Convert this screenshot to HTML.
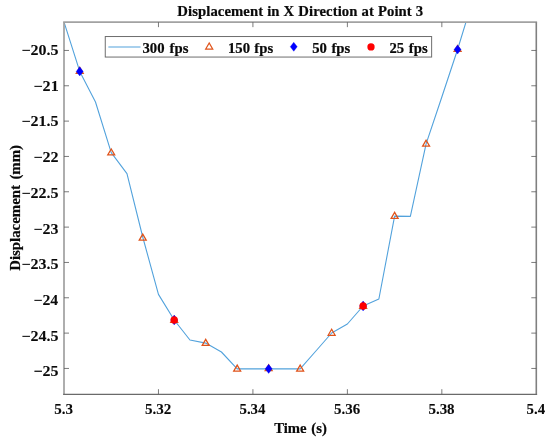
<!DOCTYPE html>
<html><head><meta charset="utf-8"><title>Displacement in X Direction at Point 3</title>
<style>
html,body{margin:0;padding:0;background:#fff;}
body{width:550px;height:442px;overflow:hidden;}
svg{display:block;}
text{font-family:"Liberation Serif", "Times New Roman", serif;font-weight:bold;fill:#0a0a0a;stroke:#0a0a0a;stroke-width:0.2px;}
.tk{font-size:14.7px;stroke-width:0.08px;}
.lb{font-size:14.7px;}
</style></head><body>
<svg width="550" height="442" viewBox="0 0 550 442">
<rect x="0" y="0" width="550" height="442" fill="#ffffff"/>
<defs><clipPath id="ax"><rect x="64.0" y="22.15" width="472.29999999999995" height="372.05"/></clipPath></defs>

<g clip-path="url(#ax)"><polyline points="64.00,22.00 79.74,71.40 95.49,102.00 111.23,152.70 126.97,173.60 142.72,237.00 158.46,294.40 174.20,320.00 189.95,340.00 205.69,343.10 221.43,352.00 237.18,368.85 252.92,368.85 268.66,368.85 284.41,368.85 300.15,368.85 315.89,351.00 331.64,333.00 347.38,324.00 363.12,306.00 378.87,299.00 394.61,216.10 410.35,216.40 426.10,143.90 441.84,97.00 457.58,49.50 473.33,-1.90 489.07,-50.00" fill="none" stroke="#52a2dc" stroke-width="1.1" stroke-linejoin="round"/></g>
<polygon points="79.74,67.25 76.24,73.28 83.24,73.28" fill="none" stroke="#e0531a" stroke-width="1.25" stroke-linejoin="miter"/>
<polygon points="111.23,148.95 107.73,154.98 114.73,154.98" fill="none" stroke="#e0531a" stroke-width="1.25" stroke-linejoin="miter"/>
<polygon points="142.72,234.10 139.22,240.13 146.22,240.13" fill="none" stroke="#e0531a" stroke-width="1.25" stroke-linejoin="miter"/>
<polygon points="174.20,316.25 170.70,322.28 177.70,322.28" fill="none" stroke="#e0531a" stroke-width="1.25" stroke-linejoin="miter"/>
<polygon points="205.69,339.35 202.19,345.38 209.19,345.38" fill="none" stroke="#e0531a" stroke-width="1.25" stroke-linejoin="miter"/>
<polygon points="237.18,365.10 233.68,371.13 240.68,371.13" fill="none" stroke="#e0531a" stroke-width="1.25" stroke-linejoin="miter"/>
<polygon points="268.66,364.70 265.16,370.73 272.16,370.73" fill="none" stroke="#e0531a" stroke-width="1.25" stroke-linejoin="miter"/>
<polygon points="300.15,365.10 296.65,371.13 303.65,371.13" fill="none" stroke="#e0531a" stroke-width="1.25" stroke-linejoin="miter"/>
<polygon points="331.64,329.25 328.14,335.28 335.14,335.28" fill="none" stroke="#e0531a" stroke-width="1.25" stroke-linejoin="miter"/>
<polygon points="363.12,302.25 359.62,308.28 366.62,308.28" fill="none" stroke="#e0531a" stroke-width="1.25" stroke-linejoin="miter"/>
<polygon points="394.61,212.35 391.11,218.38 398.11,218.38" fill="none" stroke="#e0531a" stroke-width="1.25" stroke-linejoin="miter"/>
<polygon points="426.10,140.15 422.60,146.18 429.60,146.18" fill="none" stroke="#e0531a" stroke-width="1.25" stroke-linejoin="miter"/>
<polygon points="457.58,45.45 454.08,51.48 461.08,51.48" fill="none" stroke="#e0531a" stroke-width="1.25" stroke-linejoin="miter"/>
<polygon points="79.74,66.85 83.24,71.40 79.74,75.95 76.24,71.40" fill="#0000ff" stroke="#0000ff" stroke-width="0.3"/>
<polygon points="268.66,364.30 272.16,368.85 268.66,373.40 265.16,368.85" fill="#0000ff" stroke="#0000ff" stroke-width="0.3"/>
<polygon points="457.58,44.95 461.08,49.50 457.58,54.05 454.08,49.50" fill="#0000ff" stroke="#0000ff" stroke-width="0.3"/>
<polygon points="174.20,315.10 177.80,320.00 174.20,324.90 170.60,320.00" fill="#0000ff" stroke="#0000ff" stroke-width="0.3"/>
<circle cx="174.20" cy="320.00" r="3.65" fill="#ff0000"/>
<polygon points="363.12,301.10 366.72,306.00 363.12,310.90 359.52,306.00" fill="#0000ff" stroke="#0000ff" stroke-width="0.3"/>
<circle cx="363.12" cy="306.00" r="3.65" fill="#ff0000"/>
<g fill="none" stroke-linecap="butt">
<line x1="63.15" y1="22.15" x2="537.0999999999999" y2="22.15" stroke="#a2a2a2" stroke-width="1.7"/>
<line x1="64.0" y1="22.15" x2="64.0" y2="394.84999999999997" stroke="#a0a0a0" stroke-width="1.7"/>
<line x1="536.3" y1="22.15" x2="536.3" y2="394.84999999999997" stroke="#808080" stroke-width="1.6"/>
<line x1="63.15" y1="394.3" x2="537.0999999999999" y2="394.3" stroke="#6a6a6a" stroke-width="1.3"/>
</g>
<g stroke="#5a5a5a" stroke-width="0.8" fill="none">
<line x1="158.46" y1="394.2" x2="158.46" y2="389.2"/>
<line x1="158.46" y1="22.15" x2="158.46" y2="27.15"/>
<line x1="252.92" y1="394.2" x2="252.92" y2="389.2"/>
<line x1="252.92" y1="22.15" x2="252.92" y2="27.15"/>
<line x1="347.38" y1="394.2" x2="347.38" y2="389.2"/>
<line x1="347.38" y1="22.15" x2="347.38" y2="27.15"/>
<line x1="441.84" y1="394.2" x2="441.84" y2="389.2"/>
<line x1="441.84" y1="22.15" x2="441.84" y2="27.15"/>
<line x1="64.0" y1="50.44" x2="69.0" y2="50.44"/>
<line x1="536.3" y1="50.44" x2="531.3" y2="50.44"/>
<line x1="64.0" y1="85.78" x2="69.0" y2="85.78"/>
<line x1="536.3" y1="85.78" x2="531.3" y2="85.78"/>
<line x1="64.0" y1="121.11" x2="69.0" y2="121.11"/>
<line x1="536.3" y1="121.11" x2="531.3" y2="121.11"/>
<line x1="64.0" y1="156.44" x2="69.0" y2="156.44"/>
<line x1="536.3" y1="156.44" x2="531.3" y2="156.44"/>
<line x1="64.0" y1="191.78" x2="69.0" y2="191.78"/>
<line x1="536.3" y1="191.78" x2="531.3" y2="191.78"/>
<line x1="64.0" y1="227.12" x2="69.0" y2="227.12"/>
<line x1="536.3" y1="227.12" x2="531.3" y2="227.12"/>
<line x1="64.0" y1="262.45" x2="69.0" y2="262.45"/>
<line x1="536.3" y1="262.45" x2="531.3" y2="262.45"/>
<line x1="64.0" y1="297.78" x2="69.0" y2="297.78"/>
<line x1="536.3" y1="297.78" x2="531.3" y2="297.78"/>
<line x1="64.0" y1="333.12" x2="69.0" y2="333.12"/>
<line x1="536.3" y1="333.12" x2="531.3" y2="333.12"/>
<line x1="64.0" y1="368.45" x2="69.0" y2="368.45"/>
<line x1="536.3" y1="368.45" x2="531.3" y2="368.45"/>
</g>
<text class="tk" transform="translate(54.29,414.10) scale(1.0231,1)">5.3</text>
<text class="tk" transform="translate(145.02,414.10) scale(1.0265,1)">5.32</text>
<text class="tk" transform="translate(239.49,414.10) scale(1.0100,1)">5.34</text>
<text class="tk" transform="translate(333.94,414.10) scale(1.0182,1)">5.36</text>
<text class="tk" transform="translate(428.40,414.10) scale(1.0203,1)">5.38</text>
<text class="tk" transform="translate(526.59,414.10) scale(1.0085,1)">5.4</text>
<text class="tk" transform="translate(21.43,55.10) scale(1.0870,1)">−20.5</text>
<text class="tk" transform="translate(33.42,90.78) scale(1.0951,1)">−21</text>
<text class="tk" transform="translate(21.43,126.46) scale(1.0870,1)">−21.5</text>
<text class="tk" transform="translate(33.43,162.14) scale(1.0901,1)">−22</text>
<text class="tk" transform="translate(21.43,197.82) scale(1.0870,1)">−22.5</text>
<text class="tk" transform="translate(33.43,233.50) scale(1.0826,1)">−23</text>
<text class="tk" transform="translate(21.43,269.18) scale(1.0870,1)">−23.5</text>
<text class="tk" transform="translate(33.44,304.86) scale(1.0703,1)">−24</text>
<text class="tk" transform="translate(21.43,340.54) scale(1.0870,1)">−24.5</text>
<text class="tk" transform="translate(33.43,376.22) scale(1.0851,1)">−25</text>
<text class="lb" x="177.35" y="15.80" style="word-spacing:0.27px;letter-spacing:0.08px">Displacement in X Direction at Point 3</text>
<text class="lb" x="274.25" y="433.00" style="word-spacing:1.00px">Time (s)</text>
<text class="lb" transform="translate(20.2,270.85) rotate(-90) scale(1.0120,1)" style="word-spacing:1.72px">Displacement (mm)</text>
<rect x="105.25" y="36.55" width="326.4" height="20.50" fill="#fff" stroke="#666666" stroke-width="0.95"/>
<line x1="108.35" y1="47.07" x2="140.5" y2="47.07" stroke="#52a2dc" stroke-width="1.1"/>
<text class="lb" x="142.50" y="52.50" style="word-spacing:1.40px">300 fps</text>
<polygon points="209.20,43.00 205.70,49.03 212.70,49.03" fill="none" stroke="#e0531a" stroke-width="1.25" stroke-linejoin="miter"/>
<text class="lb" x="228.00" y="52.50" style="word-spacing:0.65px">150 fps</text>
<polygon points="293.75,42.20 297.25,46.75 293.75,51.30 290.25,46.75" fill="#0000ff" stroke="#0000ff" stroke-width="0.3"/>
<text class="lb" x="312.20" y="52.50" style="word-spacing:0.85px">50 fps</text>
<circle cx="371.00" cy="46.90" r="3.65" fill="#ff0000"/>
<text class="lb" x="389.50" y="52.50" style="word-spacing:1.00px">25 fps</text>
</svg></body></html>
